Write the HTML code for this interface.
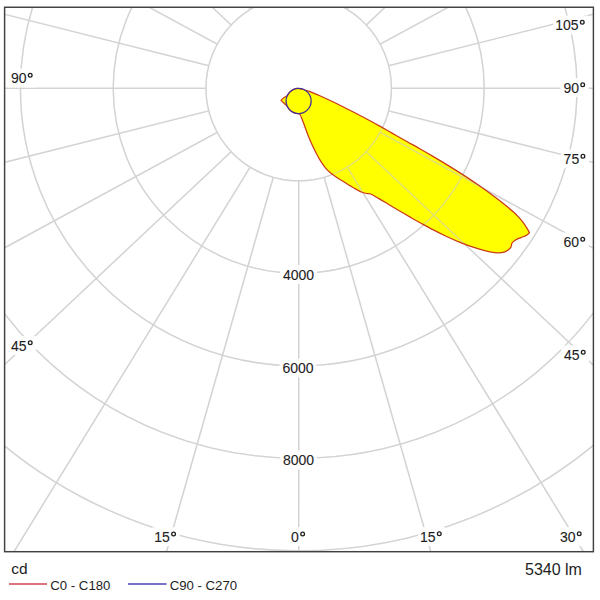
<!DOCTYPE html>
<html><head><meta charset="utf-8"><style>
html,body{margin:0;padding:0;background:#fff;width:600px;height:600px;overflow:hidden}
svg{display:block}
text{font-family:"Liberation Sans",sans-serif;fill:#1e1e1e}
</style></head><body>
<svg width="600" height="600" viewBox="0 0 600 600">
<defs><clipPath id="fr"><rect x="4.6" y="7.25" width="588.8" height="544.45"/></clipPath></defs>
<g clip-path="url(#fr)">
<g fill="none" stroke="#dfdfdf" stroke-width="1.35">
<ellipse cx="298.7" cy="88.3" rx="92.75" ry="92.5"/>
<ellipse cx="298.7" cy="88.3" rx="185.5" ry="185"/>
<ellipse cx="298.7" cy="88.3" rx="278.25" ry="277.5"/>
<ellipse cx="298.7" cy="88.3" rx="371" ry="370"/>
<ellipse cx="298.7" cy="88.3" rx="463.75" ry="462.5"/>
<ellipse cx="298.7" cy="88.3" rx="556.5" ry="555"/>
<ellipse cx="298.7" cy="88.3" rx="649.25" ry="647.5"/>
<line x1="298.7" y1="180.8" x2="298.7" y2="988.3"/>
<line x1="324.13" y1="177.26" x2="545.46" y2="953.81"/>
<line x1="347.25" y1="167.12" x2="769.78" y2="855.16"/>
<line x1="366.29" y1="151.65" x2="954.51" y2="704.67"/>
<line x1="380.22" y1="132.42" x2="1089.75" y2="517.54"/>
<line x1="388.64" y1="110.89" x2="1171.45" y2="308.09"/>
<line x1="391.45" y1="88.3" x2="1198.7" y2="88.3"/>
<line x1="388.64" y1="65.71" x2="1171.45" y2="-131.49"/>
<line x1="380.22" y1="44.18" x2="1089.75" y2="-340.94"/>
<line x1="366.29" y1="24.95" x2="954.51" y2="-528.07"/>
<line x1="347.25" y1="9.48" x2="769.78" y2="-678.56"/>
<line x1="324.13" y1="-0.66" x2="545.46" y2="-777.21"/>
<line x1="298.7" y1="-4.2" x2="298.7" y2="-811.7"/>
<line x1="273.27" y1="-0.66" x2="51.94" y2="-777.21"/>
<line x1="250.15" y1="9.48" x2="-172.38" y2="-678.56"/>
<line x1="231.11" y1="24.95" x2="-357.11" y2="-528.07"/>
<line x1="217.18" y1="44.18" x2="-492.35" y2="-340.94"/>
<line x1="208.76" y1="65.71" x2="-574.05" y2="-131.49"/>
<line x1="205.95" y1="88.3" x2="-601.3" y2="88.3"/>
<line x1="208.76" y1="110.89" x2="-574.05" y2="308.09"/>
<line x1="217.18" y1="132.42" x2="-492.35" y2="517.54"/>
<line x1="231.11" y1="151.65" x2="-357.11" y2="704.67"/>
<line x1="250.15" y1="167.12" x2="-172.38" y2="855.16"/>
<line x1="273.27" y1="177.26" x2="51.94" y2="953.81"/>
</g>
<path d="M281,100.4 C281,100.4 282.97,98.28 284,97.5 C285.03,96.72 286.25,96.6 287.2,95.7 C288.15,94.8 288.68,93.12 289.7,92.1 C290.72,91.08 292,90.22 293.3,89.6 C294.6,88.98 295.89,88.42 297.5,88.4 C299.11,88.38 301.27,89.09 302.98,89.51 C304.69,89.92 306.11,90.32 307.77,90.87 C309.43,91.42 310.92,92.01 312.93,92.83 C314.94,93.64 317.17,94.55 319.85,95.74 C322.53,96.93 325.58,98.33 329.01,99.96 C332.44,101.6 336.37,103.54 340.42,105.55 C344.47,107.56 348.96,109.81 353.33,112.04 C357.71,114.28 362.19,116.58 366.67,118.98 C371.15,121.38 375.62,123.87 380.21,126.42 C384.79,128.98 389.57,131.75 394.16,134.34 C398.74,136.92 403.36,139.51 407.7,141.94 C412.04,144.38 415.92,146.5 420.21,148.95 C424.5,151.4 428.68,153.82 433.44,156.64 C438.19,159.47 443.54,162.67 448.75,165.88 C453.96,169.08 459.51,172.5 464.69,175.87 C469.86,179.24 475,182.72 479.81,186.08 C484.62,189.45 489.39,192.97 493.56,196.09 C497.74,199.2 501.6,202.17 504.88,204.79 C508.15,207.4 510.81,209.63 513.19,211.77 C515.56,213.91 517.41,215.77 519.12,217.62 C520.84,219.48 522.2,221.21 523.47,222.91 C524.74,224.6 525.74,226.21 526.75,227.81 C527.76,229.41 529.5,232.5 529.5,232.5 C529.5,232.5 527.98,234.19 526.94,234.91 C525.89,235.62 524.58,236.2 523.22,236.78 C521.85,237.36 520.14,237.8 518.75,238.41 C517.36,239.02 516,239.67 514.88,240.44 C513.75,241.2 512.65,241.91 512,243 C511.35,244.09 511.65,245.83 511,247 C510.35,248.17 509.3,249.16 508.12,250.03 C506.95,250.9 505.73,251.76 503.94,252.22 C502.15,252.68 500.1,252.96 497.38,252.81 C494.65,252.66 491.35,252.17 487.56,251.31 C483.77,250.46 479.22,249.19 474.62,247.69 C470.03,246.19 464.85,244.27 460,242.31 C455.15,240.36 450.05,238.06 445.52,235.95 C440.99,233.84 436.75,231.7 432.83,229.68 C428.9,227.65 425.6,225.82 421.97,223.81 C418.34,221.79 414.83,219.77 411.04,217.59 C407.25,215.41 403.08,212.98 399.23,210.71 C395.37,208.45 391.38,206.04 387.93,203.99 C384.48,201.94 381.38,200.06 378.51,198.4 C375.64,196.74 372.67,194.82 370.7,194 C368.73,193.18 368.27,193.83 366.7,193.5 C365.13,193.17 363.12,192.73 361.3,192 C359.48,191.27 357.63,190.12 355.8,189.09 C353.97,188.07 352.12,186.94 350.33,185.86 C348.54,184.77 346.78,183.65 345.06,182.58 C343.34,181.52 341.68,180.52 340,179.47 C338.32,178.41 336.66,177.42 335,176.25 C333.34,175.08 331.67,173.92 330.03,172.47 C328.4,171.02 326.77,169.46 325.19,167.53 C323.6,165.61 322.06,163.39 320.52,160.92 C318.98,158.45 317.45,155.59 315.97,152.73 C314.49,149.86 312.98,146.7 311.64,143.73 C310.29,140.76 309.02,137.69 307.91,134.91 C306.79,132.12 305.87,129.43 304.97,127 C304.06,124.57 303.3,122.4 302.48,120.31 C301.65,118.23 300.83,115.62 300,114.5 C299.17,113.38 298.62,113.95 297.5,113.6 C296.38,113.25 294.6,113.02 293.3,112.4 C292,111.78 290.72,110.92 289.7,109.9 C288.68,108.88 288.15,107.4 287.2,106.3 C286.25,105.2 285.03,104.28 284,103.3 C282.97,102.32 281,100.4 281,100.4Z" fill="#ffff00" stroke="none"/>
<g fill="none" stroke="#cccccc" stroke-width="1.4" opacity="0.6">
<ellipse cx="298.7" cy="88.3" rx="92.75" ry="92.5"/>
<ellipse cx="298.7" cy="88.3" rx="185.5" ry="185"/>
<ellipse cx="298.7" cy="88.3" rx="278.25" ry="277.5"/>
<ellipse cx="298.7" cy="88.3" rx="371" ry="370"/>
<ellipse cx="298.7" cy="88.3" rx="463.75" ry="462.5"/>
<ellipse cx="298.7" cy="88.3" rx="556.5" ry="555"/>
<ellipse cx="298.7" cy="88.3" rx="649.25" ry="647.5"/>
<line x1="298.7" y1="180.8" x2="298.7" y2="988.3"/>
<line x1="324.13" y1="177.26" x2="545.46" y2="953.81"/>
<line x1="347.25" y1="167.12" x2="769.78" y2="855.16"/>
<line x1="366.29" y1="151.65" x2="954.51" y2="704.67"/>
<line x1="380.22" y1="132.42" x2="1089.75" y2="517.54"/>
<line x1="388.64" y1="110.89" x2="1171.45" y2="308.09"/>
<line x1="391.45" y1="88.3" x2="1198.7" y2="88.3"/>
<line x1="388.64" y1="65.71" x2="1171.45" y2="-131.49"/>
<line x1="380.22" y1="44.18" x2="1089.75" y2="-340.94"/>
<line x1="366.29" y1="24.95" x2="954.51" y2="-528.07"/>
<line x1="347.25" y1="9.48" x2="769.78" y2="-678.56"/>
<line x1="324.13" y1="-0.66" x2="545.46" y2="-777.21"/>
<line x1="298.7" y1="-4.2" x2="298.7" y2="-811.7"/>
<line x1="273.27" y1="-0.66" x2="51.94" y2="-777.21"/>
<line x1="250.15" y1="9.48" x2="-172.38" y2="-678.56"/>
<line x1="231.11" y1="24.95" x2="-357.11" y2="-528.07"/>
<line x1="217.18" y1="44.18" x2="-492.35" y2="-340.94"/>
<line x1="208.76" y1="65.71" x2="-574.05" y2="-131.49"/>
<line x1="205.95" y1="88.3" x2="-601.3" y2="88.3"/>
<line x1="208.76" y1="110.89" x2="-574.05" y2="308.09"/>
<line x1="217.18" y1="132.42" x2="-492.35" y2="517.54"/>
<line x1="231.11" y1="151.65" x2="-357.11" y2="704.67"/>
<line x1="250.15" y1="167.12" x2="-172.38" y2="855.16"/>
<line x1="273.27" y1="177.26" x2="51.94" y2="953.81"/>
</g>
<g fill="#fff" opacity="0.9">
<rect x="8" y="68.5" width="28.22" height="19"/>
<rect x="560.5" y="78" width="28.22" height="19"/>
<rect x="553.2" y="15.5" width="35.07" height="19"/>
<rect x="560.7" y="149.5" width="28.22" height="19"/>
<rect x="560.5" y="232.5" width="28.22" height="19"/>
<rect x="561" y="345.5" width="28.22" height="19"/>
<rect x="8" y="336" width="28.22" height="19"/>
<rect x="557" y="527" width="28.22" height="19"/>
<rect x="418" y="527" width="27.28" height="19"/>
<rect x="152.3" y="527.2" width="27.28" height="19"/>
<rect x="288.2" y="527.2" width="20.44" height="19"/>
<rect x="280" y="265" width="36.99" height="19"/>
<rect x="279.5" y="358.5" width="36.99" height="19"/>
<rect x="280" y="450.5" width="36.99" height="19"/>
</g>
<path d="M281,100.4 C281,100.4 282.97,98.28 284,97.5 C285.03,96.72 286.25,96.6 287.2,95.7 C288.15,94.8 288.68,93.12 289.7,92.1 C290.72,91.08 292,90.22 293.3,89.6 C294.6,88.98 295.89,88.42 297.5,88.4 C299.11,88.38 301.27,89.09 302.98,89.51 C304.69,89.92 306.11,90.32 307.77,90.87 C309.43,91.42 310.92,92.01 312.93,92.83 C314.94,93.64 317.17,94.55 319.85,95.74 C322.53,96.93 325.58,98.33 329.01,99.96 C332.44,101.6 336.37,103.54 340.42,105.55 C344.47,107.56 348.96,109.81 353.33,112.04 C357.71,114.28 362.19,116.58 366.67,118.98 C371.15,121.38 375.62,123.87 380.21,126.42 C384.79,128.98 389.57,131.75 394.16,134.34 C398.74,136.92 403.36,139.51 407.7,141.94 C412.04,144.38 415.92,146.5 420.21,148.95 C424.5,151.4 428.68,153.82 433.44,156.64 C438.19,159.47 443.54,162.67 448.75,165.88 C453.96,169.08 459.51,172.5 464.69,175.87 C469.86,179.24 475,182.72 479.81,186.08 C484.62,189.45 489.39,192.97 493.56,196.09 C497.74,199.2 501.6,202.17 504.88,204.79 C508.15,207.4 510.81,209.63 513.19,211.77 C515.56,213.91 517.41,215.77 519.12,217.62 C520.84,219.48 522.2,221.21 523.47,222.91 C524.74,224.6 525.74,226.21 526.75,227.81 C527.76,229.41 529.5,232.5 529.5,232.5 C529.5,232.5 527.98,234.19 526.94,234.91 C525.89,235.62 524.58,236.2 523.22,236.78 C521.85,237.36 520.14,237.8 518.75,238.41 C517.36,239.02 516,239.67 514.88,240.44 C513.75,241.2 512.65,241.91 512,243 C511.35,244.09 511.65,245.83 511,247 C510.35,248.17 509.3,249.16 508.12,250.03 C506.95,250.9 505.73,251.76 503.94,252.22 C502.15,252.68 500.1,252.96 497.38,252.81 C494.65,252.66 491.35,252.17 487.56,251.31 C483.77,250.46 479.22,249.19 474.62,247.69 C470.03,246.19 464.85,244.27 460,242.31 C455.15,240.36 450.05,238.06 445.52,235.95 C440.99,233.84 436.75,231.7 432.83,229.68 C428.9,227.65 425.6,225.82 421.97,223.81 C418.34,221.79 414.83,219.77 411.04,217.59 C407.25,215.41 403.08,212.98 399.23,210.71 C395.37,208.45 391.38,206.04 387.93,203.99 C384.48,201.94 381.38,200.06 378.51,198.4 C375.64,196.74 372.67,194.82 370.7,194 C368.73,193.18 368.27,193.83 366.7,193.5 C365.13,193.17 363.12,192.73 361.3,192 C359.48,191.27 357.63,190.12 355.8,189.09 C353.97,188.07 352.12,186.94 350.33,185.86 C348.54,184.77 346.78,183.65 345.06,182.58 C343.34,181.52 341.68,180.52 340,179.47 C338.32,178.41 336.66,177.42 335,176.25 C333.34,175.08 331.67,173.92 330.03,172.47 C328.4,171.02 326.77,169.46 325.19,167.53 C323.6,165.61 322.06,163.39 320.52,160.92 C318.98,158.45 317.45,155.59 315.97,152.73 C314.49,149.86 312.98,146.7 311.64,143.73 C310.29,140.76 309.02,137.69 307.91,134.91 C306.79,132.12 305.87,129.43 304.97,127 C304.06,124.57 303.3,122.4 302.48,120.31 C301.65,118.23 300.83,115.62 300,114.5 C299.17,113.38 298.62,113.95 297.5,113.6 C296.38,113.25 294.6,113.02 293.3,112.4 C292,111.78 290.72,110.92 289.7,109.9 C288.68,108.88 288.15,107.4 287.2,106.3 C286.25,105.2 285.03,104.28 284,103.3 C282.97,102.32 281,100.4 281,100.4Z" fill="none" stroke="#c83a18" stroke-width="1.25" stroke-linejoin="round"/>
<circle cx="298.6" cy="101" r="12.55" fill="none" stroke="#40309a" stroke-width="1.3"/>
</g>
<g font-size="14" stroke="#1e1e1e" stroke-width="0.1">
<text x="10.91" y="83">90</text>
<text x="563.41" y="92.5">90</text>
<text x="555.17" y="30">105</text>
<text x="563.61" y="164">75</text>
<text x="563.41" y="247">60</text>
<text x="563.91" y="360">45</text>
<text x="10.91" y="350.5">45</text>
<text x="559.91" y="541.5">30</text>
<text x="419.97" y="541.5">15</text>
<text x="154.27" y="541.7">15</text>
<text x="291.11" y="541.7">0</text>
<text x="282.91" y="279.5">4000</text>
<text x="282.41" y="373">6000</text>
<text x="282.91" y="465">8000</text>
</g>
<g fill="none" stroke="#1e1e1e" stroke-width="1.3">
<circle cx="30.22" cy="75.3" r="1.85"/>
<circle cx="582.72" cy="84.8" r="1.85"/>
<circle cx="582.27" cy="22.3" r="1.85"/>
<circle cx="582.92" cy="156.3" r="1.85"/>
<circle cx="582.72" cy="239.3" r="1.85"/>
<circle cx="583.22" cy="352.3" r="1.85"/>
<circle cx="30.22" cy="342.8" r="1.85"/>
<circle cx="579.22" cy="533.8" r="1.85"/>
<circle cx="439.28" cy="533.8" r="1.85"/>
<circle cx="173.58" cy="534" r="1.85"/>
<circle cx="302.64" cy="534" r="1.85"/>
</g>
<rect x="4.6" y="7.25" width="588.8" height="544.45" fill="none" stroke="#404040" stroke-width="1.45"/>
<g stroke="#1e1e1e" stroke-width="0">
<text x="11.2" y="573.8" font-size="15.5">cd</text>
<text x="525" y="574.5" font-size="16">5340 lm</text>
<text x="50.3" y="590" font-size="13.2">C0 - C180</text>
<text x="169.7" y="590.2" font-size="13.2">C90 - C270</text>
</g>
<line x1="9" y1="584" x2="47" y2="584" stroke="#d04656" stroke-width="1.5"/>
<line x1="128" y1="584" x2="166.5" y2="584" stroke="#4a42b8" stroke-width="1.5"/>
</svg>
</body></html>
